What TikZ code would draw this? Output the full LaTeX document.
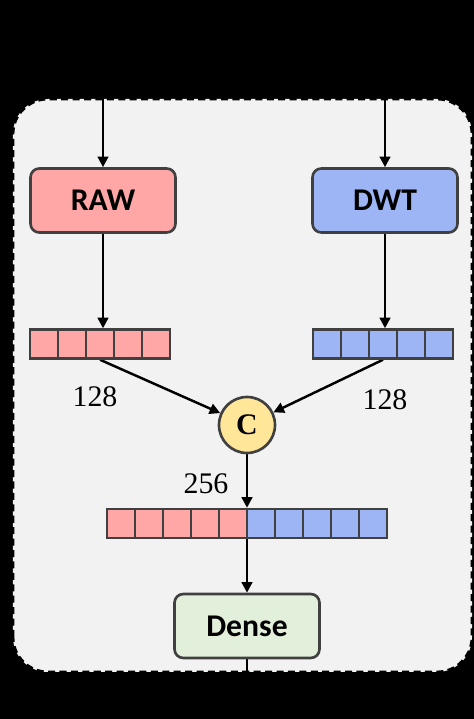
\documentclass[tikz,border=0pt]{standalone}
\usepackage{fontspec}
\setmainfont{Liberation Serif}
\newfontfamily\boxfont{Carlito}
\usetikzlibrary{arrows.meta,positioning}
\definecolor{rawred}{HTML}{FFA6A6}
\definecolor{dwtblue}{HTML}{9DB4F5}
\definecolor{catyellow}{HTML}{FFE699}
\definecolor{densegreen}{HTML}{E2EFDA}
\definecolor{framegray}{HTML}{F2F2F2}
\definecolor{edgegray}{HTML}{404040}
\pgfdeclarelayer{framelayer}
\pgfdeclarelayer{edgelayer}
\pgfdeclarelayer{nodelayer}
\pgfsetlayers{framelayer,edgelayer,nodelayer,main}
\tikzstyle{block}=[draw=edgegray,line width=1.5pt,rounded corners=5pt,minimum width=2.9cm,minimum height=1.28cm,font=\boxfont\bfseries\fontsize{18}{21}\selectfont]
\tikzstyle{cell}=[draw=edgegray,line width=1.4pt,minimum width=0.56cm,minimum height=0.58cm,inner sep=0pt]
\tikzstyle{label}=[font=\fontsize{17}{20}\selectfont]
\tikzstyle{arrow}=[-{Triangle[length=6pt,width=6pt]},line width=1.4pt,draw=black]

\begin{document}
\begin{tikzpicture}
	\useasboundingbox (0,0) rectangle (9.48,14.38);
	\begin{pgfonlayer}{framelayer}
		\fill [black] (0,0) rectangle (9.48,14.38);
		\draw [fill=framegray, draw=black, line width=1.6pt, dash pattern=on 4pt off 2.5pt, rounded corners=0.7cm] (0.26,0.94) rectangle (9.44,12.4);
	\end{pgfonlayer}
	\begin{pgfonlayer}{nodelayer}
		\coordinate (rawin) at (2.06,14.38);
		\coordinate (dwtin) at (7.7,14.38);
		\coordinate (out) at (4.94,0.94);
		\node [block, fill=rawred] (raw) at (2.06,10.37) {RAW};
		\node [block, fill=dwtblue] (dwt) at (7.7,10.37) {DWT};
		\foreach \i in {1,...,5} {
			\node [cell, fill=rawred] (l\i) at ({0.6+0.56*\i-0.28},7.5) {};
			\node [cell, fill=dwtblue] (r\i) at ({6.26+0.56*\i-0.28},7.5) {};
			\node [cell, fill=rawred] (m\i) at ({2.14+0.56*\i-0.28},3.91) {};
		}
		\foreach \i in {6,...,10} {
			\node [cell, fill=dwtblue] (m\i) at ({2.14+0.56*\i-0.28},3.91) {};
		}
		\node [circle, draw=edgegray, line width=1.5pt, fill=catyellow, minimum size=1.12cm, inner sep=0pt, font=\bfseries\fontsize{17}{20}\selectfont] (cat) at (4.94,5.88) {C};
		\node [label] (leftdim) at (1.9,6.44) {128};
		\node [label] (rightdim) at (7.7,6.38) {128};
		\node [label] (catdim) at (4.12,4.7) {256};
		\node [block, fill=densegreen] (dense) at (4.94,1.86) {Dense};
	\end{pgfonlayer}
	\begin{pgfonlayer}{edgelayer}
		\draw [arrow] (rawin) to (raw);
		\draw [arrow] (dwtin) to (dwt);
		\draw [arrow] (raw) to (raw.south |- l3.north);
		\draw [arrow] (dwt) to (dwt.south |- r3.north);
		\draw [arrow] (l3.south) to (cat);
		\draw [arrow] (r3.south) to (cat);
		\draw [arrow] (cat) to (cat |- m5.north);
		\draw [arrow] (cat |- m5.south) to (dense);
		\draw [line width=1.4pt] (dense) to (out);
	\end{pgfonlayer}
\end{tikzpicture}
\end{document}
